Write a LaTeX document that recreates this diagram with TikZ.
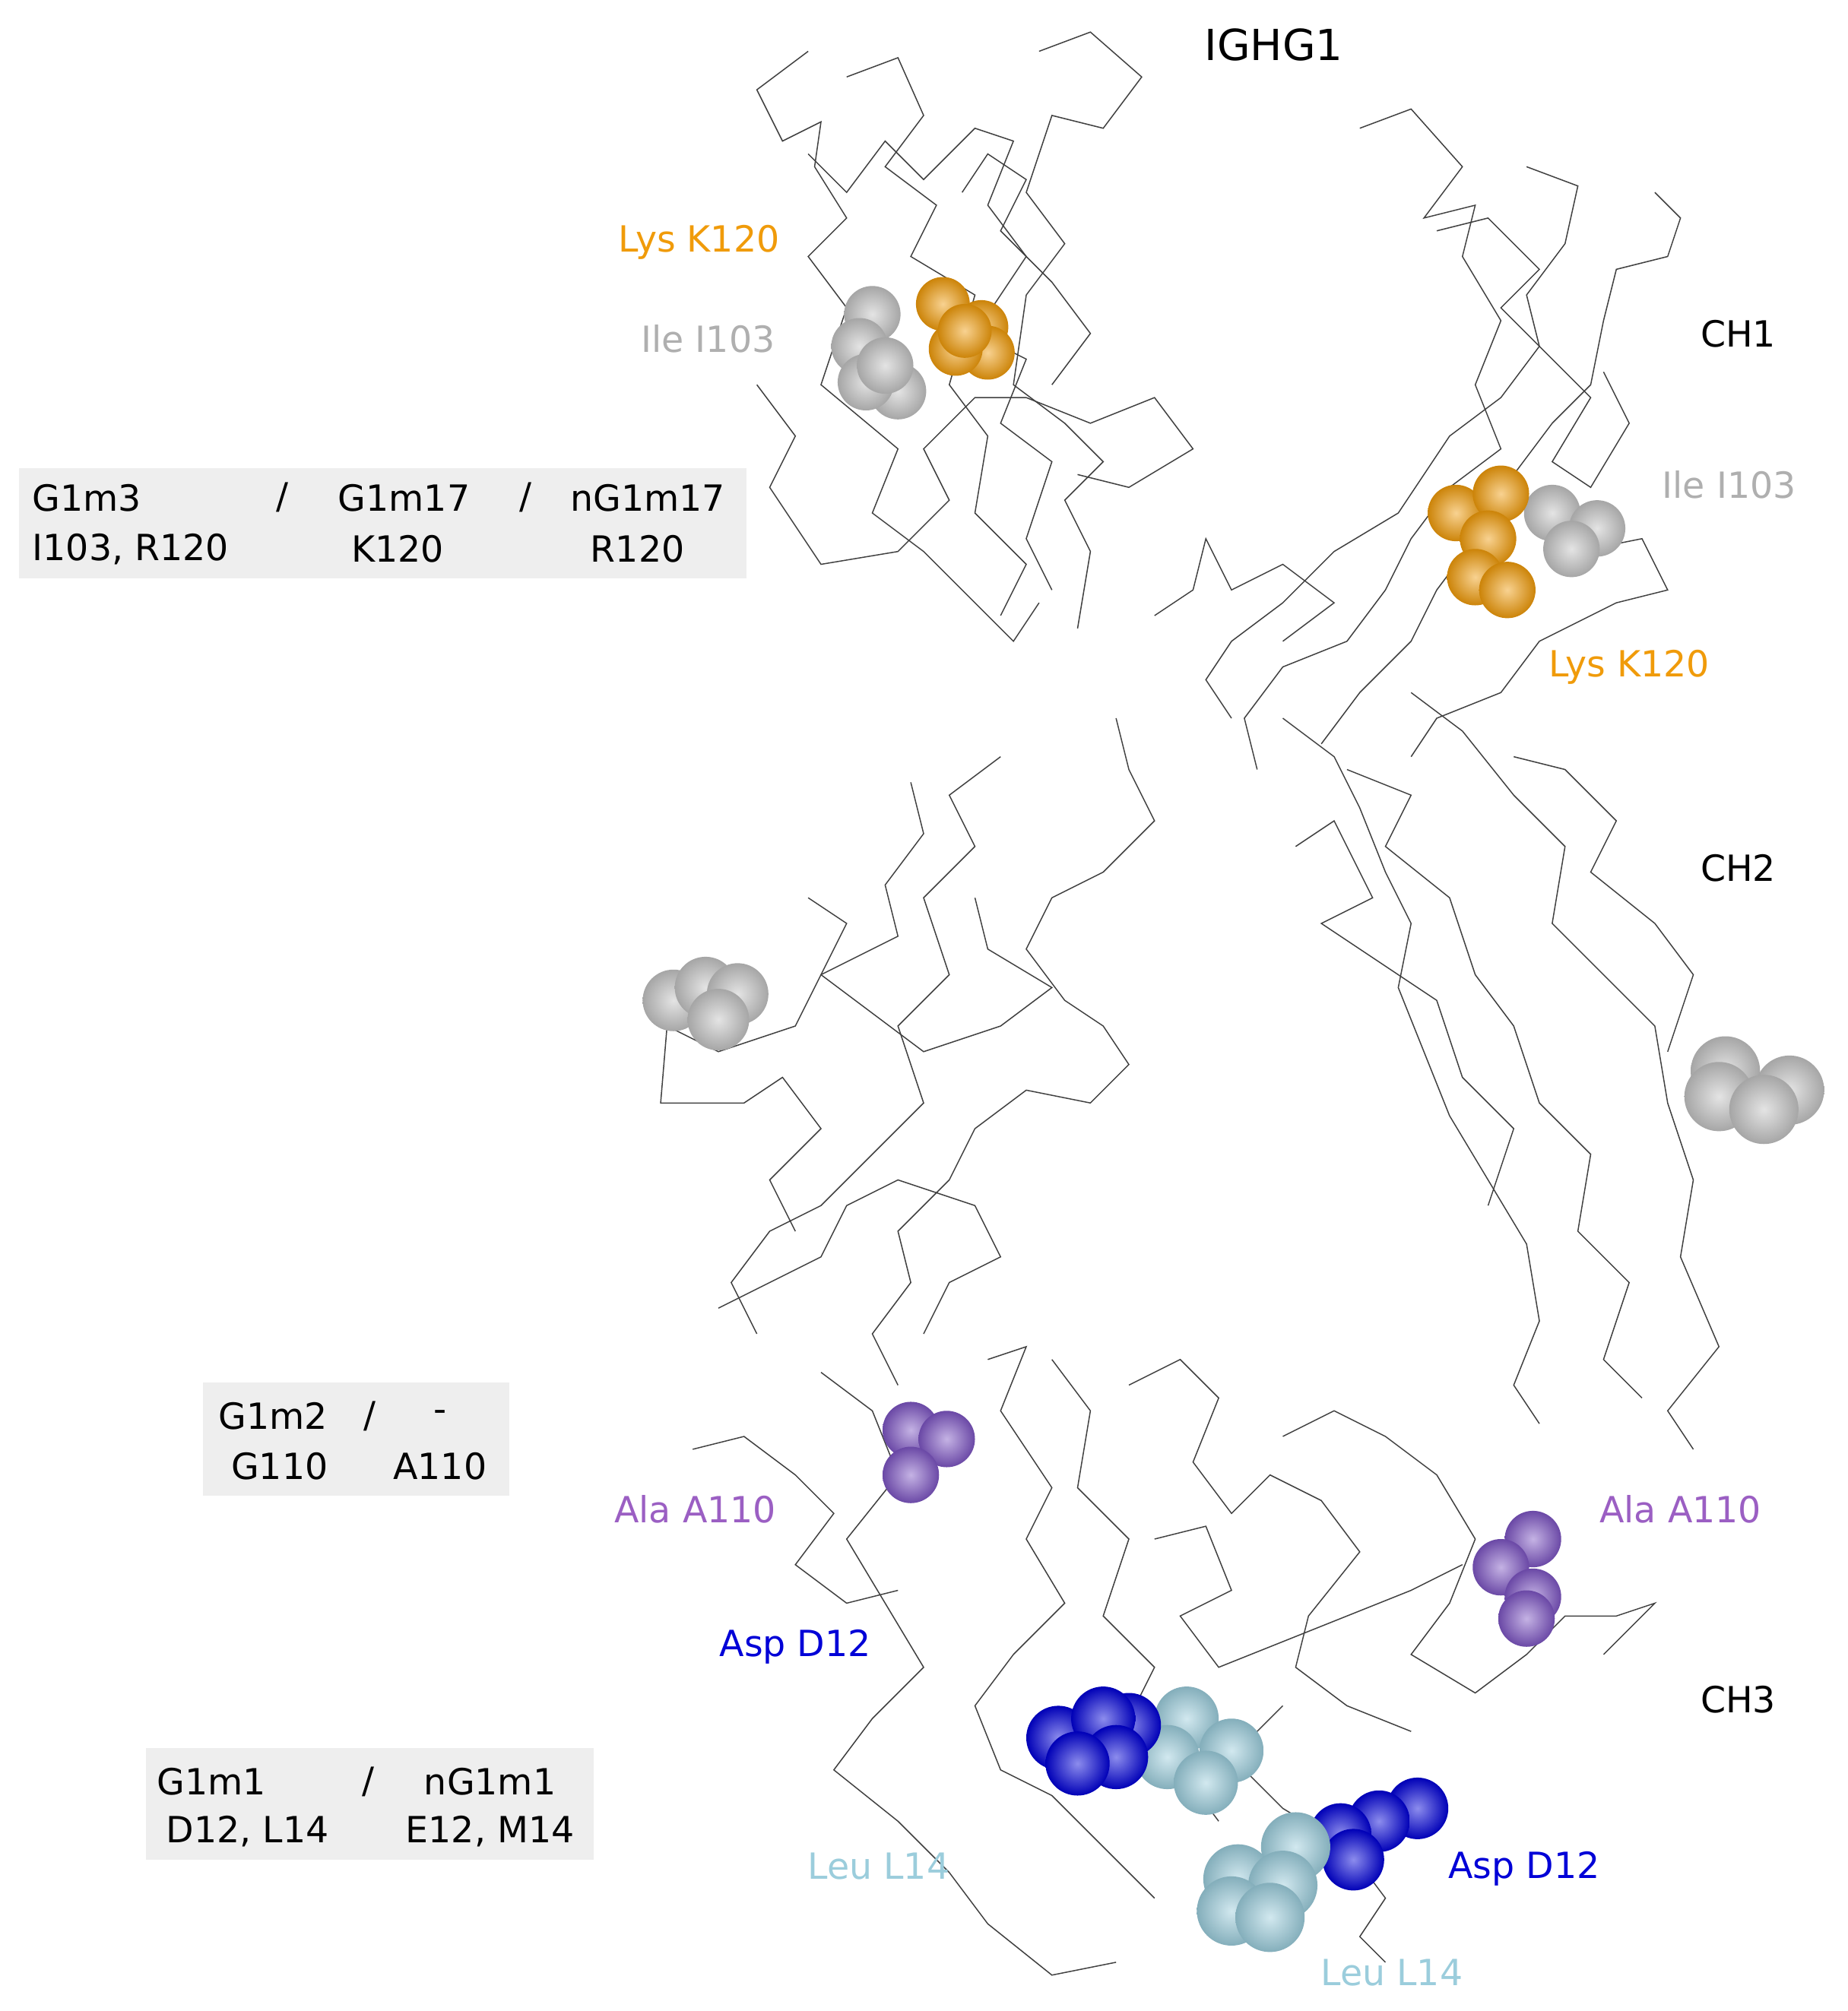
\documentclass[tikz,border=0pt]{standalone}
\usepackage{fontspec}
\setmainfont{DejaVu Sans}
\definecolor{orng}{RGB}{240,155,10}
\definecolor{gry}{RGB}{175,175,175}
\definecolor{ballgray}{RGB}{195,195,195}
\definecolor{purp}{RGB}{125,85,195}
\definecolor{purplab}{RGB}{155,95,195}
\definecolor{dblue}{RGB}{0,0,215}
\definecolor{lblue}{RGB}{155,205,220}
\definecolor{boxgray}{RGB}{238,238,238}
\tikzset{
  trace/.style={draw=black!75,line width=0.5pt,line join=miter},
  lab/.style={font=\fontsize{16}{19}\selectfont,anchor=center,inner sep=0pt},
  gbox/.style={fill=boxgray,draw=none},
}
\newcommand{\balls}[3]{\foreach \bx/\by in {#1}{\shade[inner color=#2!45!white,outer color=#2!85!black,shading=radial] (\bx,\by) circle (#3);}}
\begin{document}
\begin{tikzpicture}[x=0.02cm,y=-0.02cm]
\useasboundingbox[fill=white] (0,0) rectangle (1440,1568);
\fill[gbox] (15,365) rectangle (582,451);
\fill[gbox] (158,1078) rectangle (397,1166);
\fill[gbox] (114,1363) rectangle (463,1450);
% traces upper-left
\draw[trace] plot coordinates {(630,40)(590,70)(610,110)(640,95)(635,130)(660,170)(630,200)(660,240)(640,300)(700,350)(680,400)(720,430)(760,470)(790,500)(810,470)};
\draw[trace] plot coordinates {(660,60)(700,45)(720,90)(690,130)(730,160)(710,200)(760,230)(740,300)(770,340)(760,400)(800,440)(780,480)};
\draw[trace] plot coordinates {(810,40)(850,25)(890,60)(860,100)(820,90)(800,150)(830,190)(800,230)(790,300)(830,330)(860,360)(830,390)(850,430)(840,490)};
\draw[trace] plot coordinates {(590,300)(620,340)(600,380)(640,440)(700,430)(740,390)(720,350)(760,310)(800,310)(850,330)(900,310)(930,350)(880,380)(840,370)};
\draw[trace] plot coordinates {(750,150)(770,120)(800,140)(780,180)(820,220)(850,260)(820,300)};
\draw[trace] plot coordinates {(630,120)(660,150)(690,110)(720,140)(760,100)(790,110)(770,160)(800,200)(760,260)(800,280)(780,330)(820,360)(800,420)(820,460)};
% upper-right
\draw[trace] plot coordinates {(1060,100)(1100,85)(1140,130)(1110,170)(1150,160)(1140,200)(1170,250)(1150,300)(1170,350)(1130,380)(1100,420)(1080,460)(1050,500)(1000,520)(970,560)(980,600)};
\draw[trace] plot coordinates {(1290,150)(1310,170)(1300,200)(1260,210)(1250,250)(1240,300)(1210,330)(1180,370)(1150,420)(1120,460)(1100,500)(1060,540)(1030,580)};
\draw[trace] plot coordinates {(1190,130)(1230,145)(1220,190)(1190,230)(1200,270)(1170,310)(1130,340)(1090,400)(1040,430)(1000,470)(960,500)(940,530)(960,560)};
\draw[trace] plot coordinates {(900,480)(930,460)(940,420)(960,460)(1000,440)(1040,470)(1000,500)};
\draw[trace] plot coordinates {(1230,430)(1280,420)(1300,460)(1260,470)(1200,500)(1170,540)(1120,560)(1100,590)};
\draw[trace] plot coordinates {(1120,180)(1160,170)(1200,210)(1170,240)(1210,280)(1240,310)(1210,360)(1240,380)(1270,330)(1250,290)};
% middle-left
\draw[trace] plot coordinates {(780,590)(740,620)(760,660)(720,700)(740,760)(700,800)(720,860)(680,900)(640,940)(600,960)(570,1000)(590,1040)};
\draw[trace] plot coordinates {(710,610)(720,650)(690,690)(700,730)(640,760)(620,800)(560,820)(520,800)(515,860)(580,860)(610,840)(640,880)(600,920)(620,960)};
\draw[trace] plot coordinates {(870,560)(880,600)(900,640)(860,680)(820,700)(800,740)(830,780)(860,800)(880,830)(850,860)(800,850)(760,880)(740,920)(700,960)(710,1000)(680,1040)(700,1080)};
\draw[trace] plot coordinates {(630,700)(660,720)(640,760)(680,790)(720,820)(780,800)(820,770)(770,740)(760,700)};
\draw[trace] plot coordinates {(560,1020)(600,1000)(640,980)(660,940)(700,920)(760,940)(780,980)(740,1000)(720,1040)};
% middle-right
\draw[trace] plot coordinates {(1000,560)(1040,590)(1060,630)(1080,680)(1100,720)(1090,770)(1110,820)(1130,870)(1160,920)(1190,970)(1200,1030)(1180,1080)(1200,1110)};
\draw[trace] plot coordinates {(1100,540)(1140,570)(1180,620)(1220,660)(1210,720)(1250,760)(1290,800)(1300,860)(1320,920)(1310,980)(1340,1050)(1300,1100)(1320,1130)};
\draw[trace] plot coordinates {(1050,600)(1100,620)(1080,660)(1130,700)(1150,760)(1180,800)(1200,860)(1240,900)(1230,960)(1270,1000)(1250,1060)(1280,1090)};
\draw[trace] plot coordinates {(1010,660)(1040,640)(1070,700)(1030,720)(1090,760)(1120,780)(1140,840)(1180,880)(1160,940)};
\draw[trace] plot coordinates {(1180,590)(1220,600)(1260,640)(1240,680)(1290,720)(1320,760)(1300,820)};
% lower
\draw[trace] plot coordinates {(640,1070)(680,1100)(700,1150)(660,1200)(690,1250)(720,1300)(680,1340)(650,1380)(700,1420)(740,1460)(770,1500)(820,1540)(870,1530)};
\draw[trace] plot coordinates {(770,1060)(800,1050)(780,1100)(820,1160)(800,1200)(830,1250)(790,1290)(760,1330)(780,1380)(820,1400)(860,1440)(900,1480)};
\draw[trace] plot coordinates {(820,1060)(850,1100)(840,1160)(880,1200)(860,1260)(900,1300)(880,1340)(920,1380)(950,1420)};
\draw[trace] plot coordinates {(880,1080)(920,1060)(950,1090)(930,1140)(960,1180)(990,1150)(1030,1170)(1060,1210)(1020,1260)(1010,1300)(1050,1330)(1100,1350)};
\draw[trace] plot coordinates {(1000,1120)(1040,1100)(1080,1120)(1120,1150)(1150,1200)(1130,1250)(1100,1290)(1150,1320)(1190,1290)(1220,1260)(1260,1260)(1290,1250)(1250,1290)};
\draw[trace] plot coordinates {(900,1200)(940,1190)(960,1240)(920,1260)(950,1300)(1000,1280)(1050,1260)(1100,1240)(1140,1220)};
\draw[trace] plot coordinates {(1000,1330)(960,1370)(1000,1410)(1050,1440)(1080,1480)(1060,1510)(1080,1530)};
\draw[trace] plot coordinates {(540,1130)(580,1120)(620,1150)(650,1180)(620,1220)(660,1250)(700,1240)};
% spheres
\balls{680/245,670/270,700/305,675/298,690/285}{ballgray}{22}
\balls{735/237,765/255,770/275,745/272,752/258}{orng}{21}
\balls{1210/400,1245/412,1225/428}{ballgray}{22}
\balls{1135/400,1170/385,1160/420,1150/450,1175/460}{orng}{22}
\balls{525/780,550/770,575/775,560/795}{ballgray}{24}
\balls{1345/835,1395/850,1340/855,1375/865}{ballgray}{27}
\balls{710/1115,738/1122,710/1150}{purp}{22}
\balls{1195/1200,1170/1222,1195/1245,1190/1262}{purp}{22}
\balls{925/1340,960/1365,910/1370,940/1390}{lblue}{25}
\balls{825/1355,880/1345,860/1340,870/1370,840/1375}{dblue}{25}
\balls{1105/1410,1075/1420,1045/1430,1055/1450}{dblue}{24}
\balls{1010/1440,965/1465,1000/1470,960/1490,990/1495}{lblue}{27}
% labels
\node[lab,font=\fontsize{19}{22}\selectfont] (t) at (993,35) {IGHG1};
\node[lab,text=orng] (l1) at (545,189) {Lys K120};
\node[lab,text=gry] (l2) at (552,264) {Ile I103};
\node[lab] (ch1) at (1355,260) {CH1};
\node[lab,text=gry] (l3) at (1348,378) {Ile I103};
\node[lab,text=orng] (l4) at (1270,520) {Lys K120};
\node[lab] (ch2) at (1355,677) {CH2};
\node[lab,text=purplab] (l5) at (542,1177) {Ala A110};
\node[lab,text=purplab] (l6) at (1310,1177) {Ala A110};
\node[lab,text=dblue] (l7) at (620,1284) {Asp D12};
\node[lab] (ch3) at (1355,1325) {CH3};
\node[lab,text=lblue] (l8) at (685,1455) {Leu L14};
\node[lab,text=dblue] (l9) at (1188,1457) {Asp D12};
\node[lab,text=lblue] (l10) at (1085,1538) {Leu L14};
\node[lab,anchor=west] (b1a) at (25,388) {G1m3};
\node[lab] (b1b) at (220,388) {/};
\node[lab] (b1c) at (315,388) {G1m17};
\node[lab] (b1d) at (410,388) {/};
\node[lab] (b1e) at (505,388) {nG1m17};
\node[lab,anchor=west] (b1f) at (25,428) {I103, R120};
\node[lab] (b1g) at (310,428) {K120};
\node[lab] (b1h) at (497,428) {R120};
\node[lab] (b2a) at (213,1104) {G1m2};
\node[lab] (b2b) at (288,1104) {/};
\node[lab] (b2c) at (343,1104) {-};
\node[lab] (b2d) at (218,1143) {G110};
\node[lab] (b2e) at (343,1143) {A110};
\node[lab,anchor=west] (b3a) at (122,1389) {G1m1};
\node[lab] (b3b) at (287,1389) {/};
\node[lab] (b3c) at (382,1389) {nG1m1};
\node[lab] (b3d) at (193,1428) {D12, L14};
\node[lab] (b3e) at (382,1428) {E12, M14};
\end{tikzpicture}
\end{document}
